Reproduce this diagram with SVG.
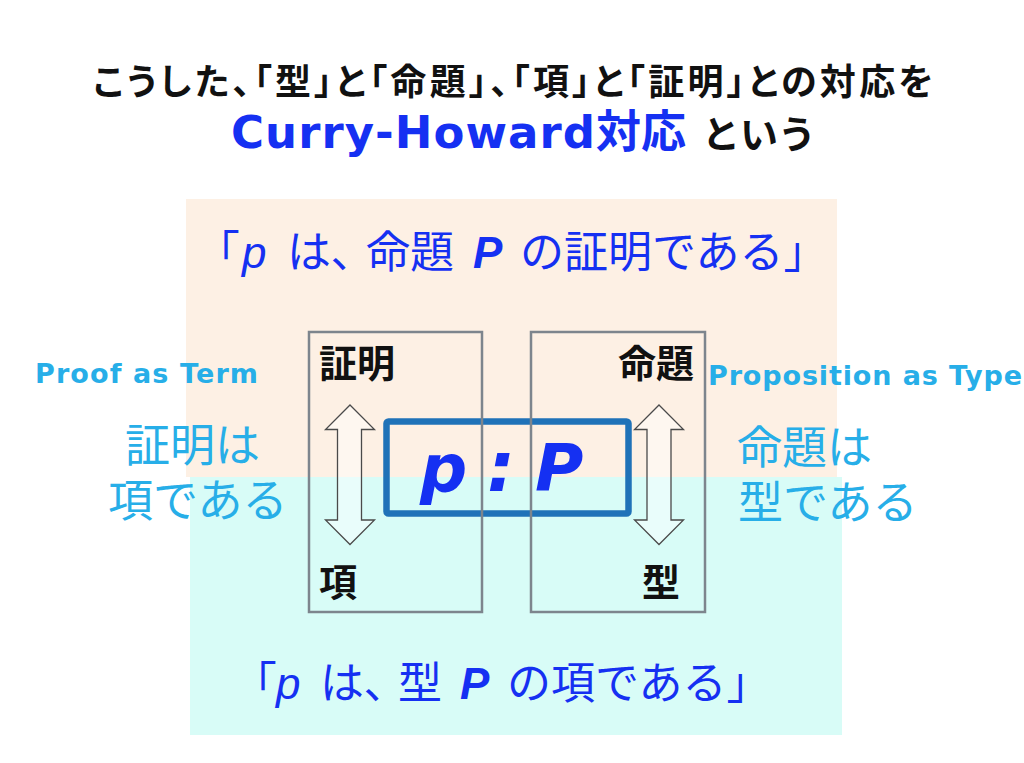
<svg xmlns="http://www.w3.org/2000/svg" width="1024" height="763" viewBox="0 0 1024 763">
<style>
.jp{font-family:"Noto Sans CJK JP","Noto Sans",sans-serif}
.lat{font-family:"Liberation Sans","Noto Sans CJK JP",sans-serif}
.vd{font-family:"DejaVu Sans","Noto Sans CJK JP",sans-serif;font-weight:bold}
.blk{fill:#111}
.blu{fill:#1530f2}
.sky{fill:#27aee8}
.box{fill:none;stroke:#7d858d;stroke-width:2.5}
.arr{fill:#ffffff;fill-opacity:0.45;stroke:#4a4a4a;stroke-width:1.3}
.palt{font-feature-settings:"palt"}
</style>
<rect width="1024" height="763" fill="#ffffff"/>
<g id="bg">
<rect x="186" y="199" width="651" height="278" fill="#fdf0e4"/>
<rect x="190" y="477" width="652" height="258" fill="#d8fcf7"/>
</g>
<g id="title">
<text class="jp blk palt" x="93" y="95" font-size="36" font-weight="bold" textLength="840" lengthAdjust="spacing">こうした、「型」と「命題」、「項」と「証明」との対応を</text>
<text class="vd blu" x="231" y="148" font-size="45" textLength="364" lengthAdjust="spacing">Curry-Howard</text>
<text class="lat" y="148" font-weight="bold"><tspan class="blu" x="596" font-size="45">対応</tspan><tspan class="blk" x="702" font-size="38">という</tspan></text>
</g>
<g id="quote-top" class="blu" font-size="44">
<text class="jp" y="268"><tspan class="palt" x="217">「</tspan><tspan class="lat" x="242" font-style="italic">p</tspan><tspan class="palt" x="287">は、</tspan><tspan x="366">命題</tspan><tspan class="lat" x="473" font-style="italic" font-weight="bold">P</tspan><tspan x="520">の証明である」</tspan></text>
</g>
<g id="quote-bottom" class="blu" font-size="44">
<text class="jp" y="699"><tspan class="palt" x="254">「</tspan><tspan class="lat" x="276" font-style="italic">p</tspan><tspan class="palt" x="320">は、</tspan><tspan x="398">型</tspan><tspan class="lat" x="460" font-style="italic" font-weight="bold">P</tspan><tspan x="507">の項である」</tspan></text>
</g>
<g id="left-label" class="sky">
<text class="vd" x="35" y="383" font-size="27" textLength="223" lengthAdjust="spacing">Proof as Term</text>
<text class="lat" font-size="45"><tspan x="125" y="462">証明は</tspan><tspan x="108" y="517">項である</tspan></text>
</g>
<g id="right-label" class="sky">
<text class="vd" x="708" y="385" font-size="27" textLength="314" lengthAdjust="spacing">Proposition as Type</text>
<text class="lat" font-size="45"><tspan x="737" y="464">命題は</tspan><tspan x="738" y="519">型である</tspan></text>
</g>
<g id="pP">
<rect x="386.5" y="421.5" width="242" height="92" rx="2" fill="none" stroke="#1f72b8" stroke-width="6.5"/>
<text class="vd blu" font-size="66" font-style="italic" y="491"><tspan x="420">p</tspan><tspan x="487" font-size="70">:</tspan><tspan x="535">P</tspan></text>
</g>
<g id="proof-box">
<rect class="box" x="309" y="332" width="173" height="280"/>
<text class="jp blk" x="319" y="377" font-size="38" font-weight="bold">証明</text>
<text class="jp blk" x="319" y="596" font-size="38" font-weight="bold">項</text>
</g>
<g id="prop-box">
<rect class="box" x="531" y="332" width="174" height="280"/>
<text class="jp blk" x="694" y="377" font-size="38" font-weight="bold" text-anchor="end">命題</text>
<text class="jp blk" x="680" y="596" font-size="38" font-weight="bold" text-anchor="end">型</text>
</g>
<g id="connectors">
<path class="arr" d="M350,405 L374.5,429.5 L361.5,429.5 L361.5,520 L374.5,520 L350,544.5 L325.5,520 L337.5,520 L337.5,429.5 L325.5,429.5 Z"/>
<path class="arr" d="M659,405 L683.5,429.5 L671,429.5 L671,520 L683.5,520 L659,544.5 L634.5,520 L647,520 L647,429.5 L634.5,429.5 Z"/>
</g>
</svg>
